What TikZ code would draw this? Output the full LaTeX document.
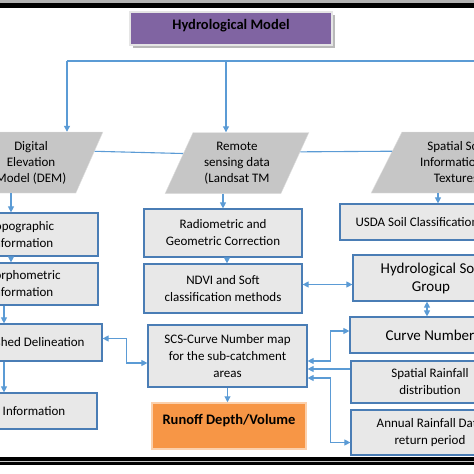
\documentclass[tikz,border=0pt]{standalone}
\usepackage{fontspec}
\setmainfont{Carlito}
\usetikzlibrary{arrows.meta,shapes.geometric}
\definecolor{boxfill}{HTML}{E8E8E8}
\definecolor{boxline}{HTML}{4A7DB5}
\definecolor{linkblue}{HTML}{5B9BD5}
\definecolor{parafill}{HTML}{C6C6C6}
\definecolor{titlefill}{HTML}{8064A2}
\definecolor{runofffill}{HTML}{F79646}
\begin{document}
\begin{tikzpicture}[x=1pt,y=-1pt,
    box/.style={rectangle,draw=boxline,fill=boxfill,line width=1.2pt,align=center,
      inner sep=2pt,font=\fontsize{13}{17}\selectfont},
    src/.style={trapezium,trapezium left angle=64,trapezium right angle=116,
      trapezium stretches=true,draw=gray!25,fill=parafill,align=center,inner sep=1pt,
      minimum width=144pt,minimum height=61pt,font=\fontsize{13}{16}\selectfont},
    title/.style={rectangle,fill=titlefill,draw=gray!20,line width=1.5pt,
      minimum width=202pt,minimum height=33pt,text depth=8pt,
      font=\bfseries\fontsize{14.5}{17}\selectfont,
      preaction={fill=gray!55,transform canvas={shift={(3pt,-3pt)}}}},
    runoff/.style={rectangle,fill=runofffill,draw=runofffill!45!white,line width=1.5pt,
      minimum width=154pt,minimum height=46pt,text depth=14pt,
      font=\bfseries\fontsize{14.5}{17}\selectfont},
    link/.style={draw=linkblue,line width=1.1pt},
    arr/.style={link,-{Triangle[length=6pt,width=6pt]}},
    dbl/.style={link,{Triangle[length=6pt,width=6pt]}-{Triangle[length=6pt,width=6pt]}}]
  \useasboundingbox (0,0) rectangle (474,474);
  \clip (0,0) rectangle (474,474);

  % frame bars
  \fill[gray!60] (0,0) rectangle (474,2.5);
  \fill[black] (0,3) rectangle (474,7.5);
  \fill[black] (0,457) rectangle (474,464.5);
  \fill[gray!45] (0,461) rectangle (474,462);

  \node[title] (hm) at (231,28.5) {Hydrological Model};

  % data sources
  \node[src] (dem) at (31,162.5) {Digital\\Elevation\\Model (DEM)};
  \node[src] (rs) at (237,163) {Remote\\sensing data\\(Landsat TM};
  \node[src,minimum width=170pt] (soil) at (456,162.5) {Spatial Soil\\Informational\\Textures};

  % left column
  \node[box,minimum width=152pt,minimum height=43pt] (topo) at (22,234.5) {Topographic\\Information};
  \node[box,minimum width=152pt,minimum height=42pt] (morph) at (22,284) {Morphometric\\Information};
  \node[box,minimum width=156pt,minimum height=37pt] (shed) at (24,342.5) {Watershed Delineation};
  \node[box,minimum width=126pt,minimum height=36pt] (info) at (34,411) {Information};

  % middle column
  \node[box,minimum width=158pt,minimum height=48pt] (radio) at (223,233) {Radiometric and\\Geometric Correction};
  \node[box,minimum width=158pt,minimum height=49pt] (ndvi) at (223,288.5) {NDVI and Soft\\classification methods};
  \node[box,minimum width=159pt,minimum height=62pt] (scs) at (227.5,356) {SCS-Curve Number map\\for the sub-catchment\\areas};
  \node[runoff] (depth) at (229,426) {Runoff Depth/Volume};

  % right column
  \node[box,minimum width=154pt,minimum height=36pt] (usda) at (417,222) {USDA Soil Classification};
  \node[box,minimum width=156pt,minimum height=46pt,font=\fontsize{15}{18}\selectfont] (hsg) at (431,278) {Hydrological Soil\\Group};
  \node[box,minimum width=160pt,minimum height=36pt,font=\fontsize{15}{18}\selectfont] (cn) at (430,335) {Curve Number};
  \node[box,minimum width=158pt,minimum height=42pt] (rain) at (430,382) {Spatial Rainfall\\distribution};
  \node[box,minimum width=158pt,minimum height=45pt] (annual) at (430,432.5) {Annual Rainfall Data\\return period};

  \coordinate (busL) at (67,61);
  \coordinate (busM) at (226,61);
  \coordinate (busR) at (480,61);

  \begin{scope}[link]
    \draw (busL) -- (busR);
    \draw (dem.10) -- (rs.170);
    \draw (rs.10) -- (soil.170);
  \end{scope}
  \begin{scope}[arr]
    \draw (busL) -- (busL |- dem.north);
    \draw (busM) -- (busM |- rs.north);
    \draw ([xshift=-11pt]topo.north |- dem.south) -- ([xshift=-11pt]topo.north);
    \draw ([xshift=-11pt]topo.south) -- ([xshift=-11pt]morph.north);
    \draw ([xshift=-18pt]morph.south) -- ([xshift=-18pt]morph.south |- shed.north);
    \draw ([xshift=-20pt]shed.south) -- ([xshift=-20pt]shed.south |- info.north);
    \draw (radio.north |- rs.south) -- (radio.north);
    \draw ([xshift=4pt]radio.south) -- ([xshift=4pt]ndvi.north);
    \draw (scs.south) -- (scs.south |- depth.north);
    \draw ([xshift=21pt]usda.north |- soil.south) -- ([xshift=21pt]usda.north);
    \draw ([yshift=13pt]rain.west) -- ([yshift=13pt]rain.west -| scs.east);
  \end{scope}
  \begin{scope}[dbl]
    \draw ([yshift=4pt]ndvi.east) -- ([yshift=4pt]ndvi.east -| hsg.west);
    \draw ([xshift=-4pt]hsg.south) -- ([xshift=-4pt]hsg.south |- cn.north);
    \draw ([yshift=4pt]shed.east) -- ++(24,0) |- ([yshift=-7pt]scs.west);
    \draw ([yshift=-5pt]scs.east) -- ++(23,0) |- ([yshift=4pt]cn.west);
    \draw ([yshift=-22pt]scs.east) -- ++(23,0) |- ([yshift=-10pt]annual.west);
  \end{scope}
\end{tikzpicture}
\end{document}
